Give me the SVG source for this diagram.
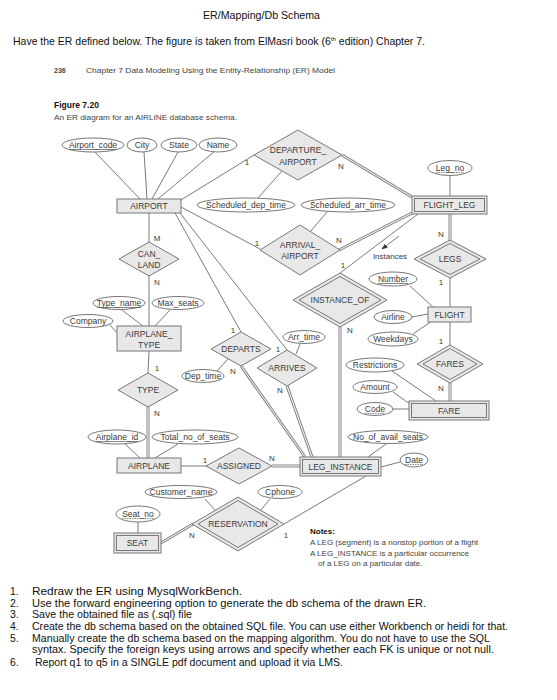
<svg xmlns="http://www.w3.org/2000/svg" width="557" height="700" viewBox="0 0 557 700">
<style>
.t{font-family:"Liberation Sans",Arial,sans-serif;fill:#111}
.g{font-family:"Liberation Sans",Arial,sans-serif;fill:#444}
.n{font-family:"Liberation Sans",Arial,sans-serif;font-size:8.5px;fill:#3a3a3a;text-anchor:middle}
.c{font-family:"Liberation Sans",Arial,sans-serif;font-size:8px;fill:#3a3a3a;text-anchor:middle}
.e{fill:#fff;stroke:#777;stroke-width:1}
.r{fill:#e8e8e8;stroke:#777;stroke-width:1}
.ln path{stroke:#7a7a7a;stroke-width:1;fill:none}
.dbl .d1{stroke:#858585;stroke-width:3;fill:none}
.dbl .d2{stroke:#fff;stroke-width:1;fill:none}
.k{stroke:#555;stroke-width:0.7}
.pk{stroke:#555;stroke-width:0.7;stroke-dasharray:1.5 1}
</style>
<defs>
<marker id="ah" viewBox="0 0 10 10" refX="9" refY="5" markerWidth="6" markerHeight="6" orient="auto"><path d="M0,1 L10,5 L0,9 z" fill="#333"/></marker>
</defs>
<rect width="557" height="700" fill="#fff"/>

<!-- page text -->
<text class="t" x="203" y="19" font-size="11" textLength="117" lengthAdjust="spacingAndGlyphs">ER/Mapping/Db Schema</text>
<text class="t" x="13" y="45" font-size="10.2" textLength="412" lengthAdjust="spacingAndGlyphs">Have the ER defined below. The figure is taken from ElMasri book (6<tspan font-size="6" dy="-4">th</tspan><tspan dy="4"> edition) Chapter 7.</tspan></text>
<text class="g" x="54" y="73" font-size="7" font-weight="bold">236</text>
<text class="g" x="86" y="73" font-size="7.5" textLength="249" lengthAdjust="spacingAndGlyphs">Chapter 7  Data Modeling Using the Entity-Relationship (ER) Model</text>
<text class="t" x="54" y="108" font-size="8.5" font-weight="bold" fill="#222">Figure 7.20</text>
<text class="g" x="54" y="119.5" font-size="8" textLength="183" lengthAdjust="spacingAndGlyphs">An ER diagram for an AIRLINE database schema.</text>

<!-- connectors -->
<g id="connectors">
<g class="ln">
<path d="M95,152 L140,199"/>
<path d="M144,152 L147,199"/>
<path d="M178,152 L152,199"/>
<path d="M215,151 L158,199"/>
<path d="M181,200 L254,155"/>
<path d="M282,171 L258,198"/>
<path d="M181,207 L260,249"/>
<path d="M327,212 L310,232"/>
<path d="M340,273 L418,214"/>
<path d="M450,176 L450,196"/>
<path d="M450,278 L450,307"/>
<path d="M410,286 L433,307"/>
<path d="M412,317 L428,314"/>
<path d="M413,334 L432,321"/>
<path d="M450,322 L450,345"/>
<path d="M392,371 L436,401"/>
<path d="M393,392 L410,404"/>
<path d="M393,409 L409,409"/>
<path d="M386,444 L368,457"/>
<path d="M400,462 L381,467"/>
<path d="M366,476 L284,524"/>
<path d="M149,213 L149,242"/>
<path d="M149,276 L149,326"/>
<path d="M122,310 L143,326"/>
<path d="M170,310 L155,326"/>
<path d="M110,325 L117,333"/>
<path d="M149,351 L148,373"/>
<path d="M125,444 L140,458"/>
<path d="M178,444 L155,458"/>
<path d="M181,466 L206,466"/>
<path d="M175,213 L241,332"/>
<path d="M180,213 L287,350"/>
<path d="M217,371 L228,359"/>
<path d="M300,344 L296,354"/>
<path d="M205,499 L216,511"/>
<path d="M270,499 L260,511"/>
<path d="M138,522 L138,533"/>
<path d="M399,236 L382,249" stroke="#333" marker-end="url(#ah)"/>
</g>
<g class="dbl">
<path class="d1" d="M342,155 L412,197"/><path class="d2" d="M342,155 L412,197"/>
<path class="d1" d="M339,250 L412,213"/><path class="d2" d="M339,250 L412,213"/>
<path class="d1" d="M450,214 L450,241"/><path class="d2" d="M450,214 L450,241"/>
<path class="d1" d="M450,383 L450,401"/><path class="d2" d="M450,383 L450,401"/>
<path class="d1" d="M340,327 L340,457"/><path class="d2" d="M340,327 L340,457"/>
<path class="d1" d="M148,407 L148,458"/><path class="d2" d="M148,407 L148,458"/>
<path class="d1" d="M272,466 L300,466"/><path class="d2" d="M272,466 L300,466"/>
<path class="d1" d="M241,366 L305,457"/><path class="d2" d="M241,366 L305,457"/>
<path class="d1" d="M287,386 L312,457"/><path class="d2" d="M287,386 L312,457"/>
<path class="d1" d="M161,543 L193,524"/><path class="d2" d="M161,543 L193,524"/>
</g>
<g class="c">
<text x="247" y="165">1</text><text x="341" y="169">N</text>
<text x="257" y="246">1</text><text x="339" y="243">N</text>
<text x="343" y="268">1</text><text x="350" y="333">N</text>
<text x="441" y="237">N</text><text x="441" y="285">1</text>
<text x="441" y="344">1</text><text x="441" y="391">N</text>
<text x="157" y="241">M</text><text x="157" y="285">N</text>
<text x="157" y="371">1</text><text x="157" y="416">N</text>
<text x="233" y="333">1</text><text x="233" y="374">N</text>
<text x="278" y="352">1</text><text x="280" y="393">N</text>
<text x="205" y="463">1</text><text x="272" y="461">N</text>
<text x="192" y="538">N</text><text x="286" y="538">1</text>
</g>
<text class="c" x="390" y="259">Instances</text>
</g>

<!-- entities -->
<g id="AIRPORT"><rect class="r" x="117" y="199" width="64" height="14"/><text class="n" x="149" y="209">AIRPORT</text></g>
<g id="FLIGHT_LEG"><rect class="r" x="412" y="196" width="75" height="18"/><rect class="r" x="414.5" y="198.5" width="70" height="13"/><text class="n" x="449.5" y="208">FLIGHT_LEG</text></g>
<g id="FLIGHT"><rect class="r" x="428" y="307" width="43" height="15"/><text class="n" x="449.5" y="317.5">FLIGHT</text></g>
<g id="FARE"><rect class="r" x="409" y="401" width="80" height="19"/><rect class="r" x="411.5" y="403.5" width="75" height="14"/><text class="n" x="449" y="413.5">FARE</text></g>
<g id="AIRPLANE_TYPE"><rect class="r" x="117" y="326" width="64" height="25"/><text class="n" x="149" y="337">AIRPLANE_</text><text class="n" x="149" y="348">TYPE</text></g>
<g id="AIRPLANE"><rect class="r" x="117" y="458" width="64" height="15"/><text class="n" x="149" y="468.5">AIRPLANE</text></g>
<g id="LEG_INSTANCE"><rect class="r" x="300" y="457" width="81" height="19"/><rect class="r" x="302.5" y="459.5" width="76" height="14"/><text class="n" x="340.5" y="469.5">LEG_INSTANCE</text></g>
<g id="SEAT"><rect class="r" x="114" y="533" width="47" height="20"/><rect class="r" x="116.5" y="535.5" width="42" height="15"/><text class="n" x="137.5" y="546">SEAT</text></g>

<!-- relationships -->
<g id="DEPARTURE_AIRPORT"><polygon class="r" points="298,130 342,155 298,180 254,155"/><text class="n" x="298" y="153">DEPARTURE_</text><text class="n" x="298" y="165">AIRPORT</text></g>
<g id="ARRIVAL_AIRPORT"><polygon class="r" points="300,225 340,250 300,275 260,250"/><text class="n" x="300" y="248">ARRIVAL_</text><text class="n" x="300" y="259">AIRPORT</text></g>
<g id="INSTANCE_OF"><polygon class="r" points="340,273 387,300 340,327 293,300"/><polygon class="r" points="340,276.5 381,300 340,323.5 299,300"/><text class="n" x="340" y="303">INSTANCE_OF</text></g>
<g id="LEGS"><polygon class="r" points="450,240 486,259 450,278 414,259"/><polygon class="r" points="450,243.5 480,259 450,274.5 420,259"/><text class="n" x="450" y="262">LEGS</text></g>
<g id="FARES"><polygon class="r" points="450,345 483,364 450,383 417,364"/><polygon class="r" points="450,348.5 477,364 450,379.5 423,364"/><text class="n" x="450" y="367">FARES</text></g>
<g id="CAN_LAND"><polygon class="r" points="149,242 179,259 149,276 119,259"/><text class="n" x="149" y="257">CAN_</text><text class="n" x="149" y="268">LAND</text></g>
<g id="TYPE"><polygon class="r" points="148,373 178,390 148,407 118,390"/><text class="n" x="148" y="393">TYPE</text></g>
<g id="DEPARTS"><polygon class="r" points="241,332 271,349 241,366 211,349"/><text class="n" x="241" y="352">DEPARTS</text></g>
<g id="ARRIVES"><polygon class="r" points="287,350 317,368 287,386 257,368"/><text class="n" x="287" y="371">ARRIVES</text></g>
<g id="ASSIGNED"><polygon class="r" points="239,448 272,466 239,484 206,466"/><text class="n" x="239" y="469">ASSIGNED</text></g>
<g id="RESERVATION"><polygon class="r" points="238,497 284,524 238,551 192,524"/><polygon class="r" points="238,500.5 278,524 238,547.5 198,524"/><text class="n" x="238" y="527">RESERVATION</text></g>

<!-- attributes -->
<g id="Airport_code"><ellipse class="e" cx="93" cy="145" rx="31" ry="7"/><text class="n" x="93" y="148">Airport_code</text><line class="k" x1="69" y1="149.5" x2="117" y2="149.5"/></g>
<g id="City"><ellipse class="e" cx="142" cy="145" rx="15" ry="7"/><text class="n" x="142" y="148">City</text></g>
<g id="State"><ellipse class="e" cx="179" cy="145" rx="18" ry="7"/><text class="n" x="179" y="148">State</text></g>
<g id="Name"><ellipse class="e" cx="218" cy="145" rx="19" ry="7"/><text class="n" x="218" y="148">Name</text></g>
<g id="Scheduled_dep_time"><ellipse class="e" cx="246" cy="205" rx="49" ry="7"/><text class="n" x="246" y="208">Scheduled_dep_time</text></g>
<g id="Scheduled_arr_time"><ellipse class="e" cx="348" cy="205" rx="47" ry="7"/><text class="n" x="348" y="208">Scheduled_arr_time</text></g>
<g id="Leg_no"><ellipse class="e" cx="450" cy="168" rx="22" ry="7.5"/><text class="n" x="450" y="171">Leg_no</text><line class="pk" x1="436" y1="172.5" x2="464" y2="172.5"/></g>
<g id="Number"><ellipse class="e" cx="393" cy="279" rx="24" ry="7"/><text class="n" x="393" y="282">Number</text><line class="k" x1="378" y1="283.5" x2="408" y2="283.5"/></g>
<g id="Airline"><ellipse class="e" cx="393" cy="317" rx="19" ry="6.5"/><text class="n" x="393" y="320">Airline</text></g>
<g id="Weekdays"><ellipse class="e" cx="393" cy="339" rx="25" ry="7"/><text class="n" x="393" y="342">Weekdays</text></g>
<g id="Restrictions"><ellipse class="e" cx="375" cy="365" rx="29" ry="7"/><text class="n" x="375" y="368">Restrictions</text></g>
<g id="Amount"><ellipse class="e" cx="375" cy="387" rx="22" ry="6.5"/><text class="n" x="375" y="390">Amount</text></g>
<g id="Code"><ellipse class="e" cx="375" cy="409" rx="18" ry="6.5"/><text class="n" x="375" y="412">Code</text><line class="pk" x1="365" y1="413.5" x2="385" y2="413.5"/></g>
<g id="No_of_avail_seats"><ellipse class="e" cx="388" cy="437" rx="40" ry="6.5"/><text class="n" x="388" y="440">No_of_avail_seats</text></g>
<g id="Date"><ellipse class="e" cx="414" cy="460" rx="14" ry="7"/><text class="n" x="414" y="463">Date</text><line class="pk" x1="405" y1="464.5" x2="423" y2="464.5"/></g>
<g id="Type_name"><ellipse class="e" cx="119" cy="303" rx="26" ry="6.5"/><text class="n" x="119" y="306">Type_name</text><line class="k" x1="97" y1="307.5" x2="141" y2="307.5"/></g>
<g id="Max_seats"><ellipse class="e" cx="178" cy="303" rx="26" ry="6.5"/><text class="n" x="178" y="306">Max_seats</text></g>
<g id="Company"><ellipse class="e" cx="88" cy="321" rx="25" ry="6.5"/><text class="n" x="88" y="324">Company</text></g>
<g id="Dep_time"><ellipse class="e" cx="203" cy="376" rx="21" ry="6.5"/><text class="n" x="203" y="379">Dep_time</text></g>
<g id="Arr_time"><ellipse class="e" cx="304" cy="337" rx="21" ry="6.5"/><text class="n" x="304" y="340">Arr_time</text></g>
<g id="Airplane_id"><ellipse class="e" cx="117" cy="437" rx="29" ry="7"/><text class="n" x="117" y="440">Airplane_id</text><line class="k" x1="96" y1="441.5" x2="138" y2="441.5"/></g>
<g id="Total_no_of_seats"><ellipse class="e" cx="195" cy="437" rx="43" ry="7"/><text class="n" x="195" y="440">Total_no_of_seats</text></g>
<g id="Customer_name"><ellipse class="e" cx="181" cy="492" rx="36" ry="6.5"/><text class="n" x="181" y="495">Customer_name</text></g>
<g id="Cphone"><ellipse class="e" cx="280" cy="492" rx="22" ry="6.5"/><text class="n" x="280" y="495">Cphone</text></g>
<g id="Seat_no"><ellipse class="e" cx="138" cy="514" rx="22" ry="8"/><text class="n" x="138" y="517">Seat_no</text><line class="pk" x1="122" y1="518.5" x2="154" y2="518.5"/></g>

<!-- notes -->
<text class="t" x="310" y="534" font-size="8" font-weight="bold" fill="#333">Notes:</text>
<text class="g" x="310" y="545" font-size="8" fill="#333">A LEG (segment) is a nonstop portion of a flight</text>
<text class="g" x="310" y="556" font-size="8" fill="#333">A LEG_INSTANCE is a particular occurrence</text>
<text class="g" x="318" y="566" font-size="8" fill="#333">of a LEG on a particular date.</text>

<!-- task list -->
<g class="t" font-size="10.4">
<text x="10" y="594.5">1.</text><text x="32" y="594.5" textLength="210" lengthAdjust="spacingAndGlyphs">Redraw the ER using MysqlWorkBench.</text>
<text x="10" y="606.5">2.</text><text x="32" y="606.5" textLength="394" lengthAdjust="spacingAndGlyphs">Use the forward engineering option to generate the db schema of the drawn ER.</text>
<text x="10" y="617.5">3.</text><text x="32" y="617.5" textLength="160" lengthAdjust="spacingAndGlyphs">Save the obtained file as (.sql) file</text>
<text x="10" y="629.5">4.</text><text x="32" y="629.5" textLength="476" lengthAdjust="spacingAndGlyphs">Create the db schema based on the obtained SQL file. You can use either Workbench or heidi for that.</text>
<text x="10" y="641.5">5.</text><text x="32" y="641.5" textLength="458" lengthAdjust="spacingAndGlyphs">Manually create the db schema based on the mapping algorithm. You do not have to use the SQL</text>
<text x="32" y="653" textLength="462" lengthAdjust="spacingAndGlyphs">syntax. Specify the foreign keys using arrows and specify whether each FK is unique or not null.</text>
<text x="10" y="665.5">6.</text><text x="35" y="665.5" textLength="308" lengthAdjust="spacingAndGlyphs">Report q1 to q5 in a SINGLE pdf document and upload it via LMS.</text>
</g>
</svg>
